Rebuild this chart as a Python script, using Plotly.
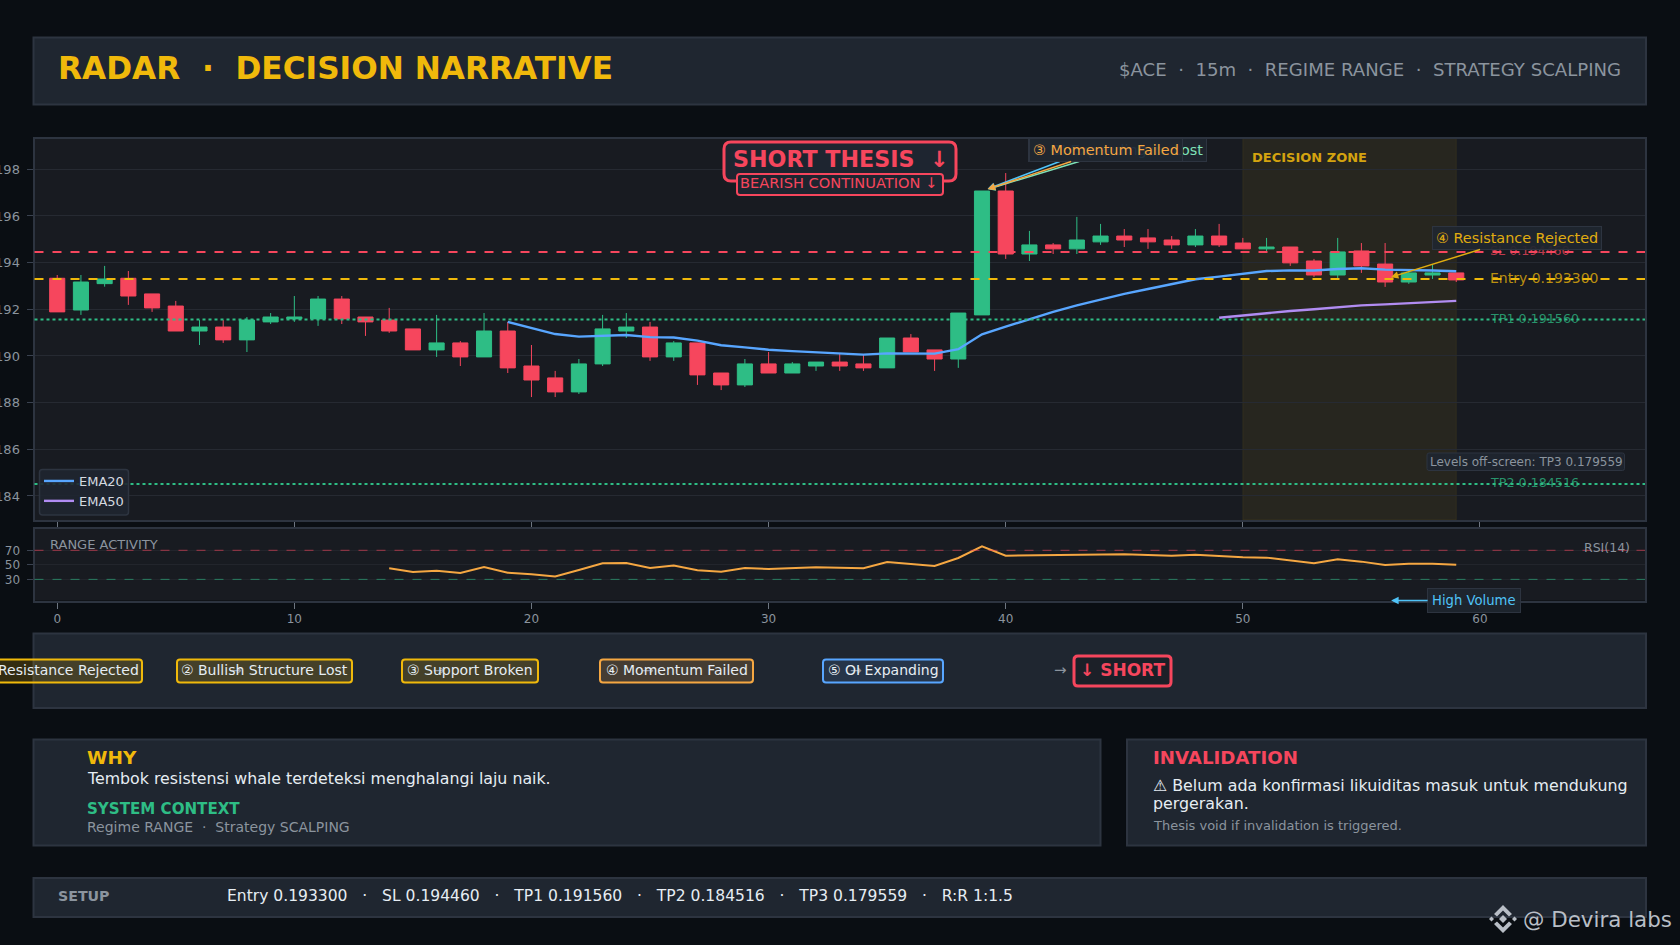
import plotly.graph_objects as go

W, H = 1680, 945
FONT = "DejaVu Sans"
BG = "#0a0e13"
PANEL = "#1f2630"
PLOT = "#181b21"
EDGE = "#2d3440"
RED = "#f6465d"
GREEN = "#2ebd85"
GOLD = "#f0b90b"
ORANGE = "#f5a742"
BLUE = "#58a6ff"
PURPLE = "#b18cf2"
CYAN = "#4fc3f7"
TEXT = "#e6edf3"
GREY = "#8b949e"

# candles
opens = [0.19333, 0.19197, 0.1931, 0.19333, 0.19266, 0.19214, 0.19107, 0.19124, 0.19069, 0.19146,
         0.19159, 0.19159, 0.19244, 0.19167, 0.19154, 0.19116, 0.19026, 0.19056, 0.18996, 0.19107,
         0.18957, 0.18906, 0.18846, 0.18966, 0.19107, 0.19124, 0.18996, 0.19056, 0.18927, 0.18876,
         0.18966, 0.18927, 0.18957, 0.18974, 0.18966, 0.18949, 0.19077, 0.19026, 0.18987, 0.19176,
         0.19707, 0.19437, 0.19476, 0.19459, 0.19489, 0.19514, 0.19506, 0.19497, 0.19476, 0.19514,
         0.19484, 0.19459, 0.19467, 0.19407, 0.19347, 0.1945, 0.19394, 0.19317, 0.19347, 0.19356]
highs = [0.19347, 0.19347, 0.19386, 0.19364, 0.19266, 0.19236, 0.19154, 0.19154, 0.19167, 0.19184,
         0.19257, 0.19257, 0.19257, 0.19167, 0.19206, 0.19116, 0.19176, 0.19064, 0.19184, 0.19146,
         0.19047, 0.18936, 0.18987, 0.19176, 0.19184, 0.19146, 0.19064, 0.19056, 0.18927, 0.18987,
         0.19017, 0.18974, 0.18974, 0.19009, 0.19004, 0.19077, 0.19094, 0.19026, 0.19184, 0.19707,
         0.19784, 0.19536, 0.19484, 0.19596, 0.19566, 0.19544, 0.19544, 0.19514, 0.19544, 0.19566,
         0.19506, 0.19506, 0.19467, 0.19416, 0.19506, 0.19484, 0.19484, 0.19369, 0.19394, 0.19356]
lows = [0.19189, 0.19176, 0.19297, 0.19219, 0.19189, 0.19107, 0.19047, 0.19056, 0.19017, 0.19137,
        0.19146, 0.19129, 0.19137, 0.19086, 0.19099, 0.19026, 0.18996, 0.18957, 0.18996, 0.18927,
        0.18824, 0.18824, 0.18837, 0.18957, 0.19077, 0.18979, 0.18979, 0.18876, 0.18854, 0.18867,
        0.18927, 0.18927, 0.18936, 0.18936, 0.18936, 0.18949, 0.19017, 0.18936, 0.18949, 0.19176,
        0.19416, 0.19407, 0.19437, 0.19437, 0.19476, 0.19467, 0.19459, 0.19459, 0.19467, 0.19467,
        0.19459, 0.19446, 0.19386, 0.19339, 0.19334, 0.19356, 0.19296, 0.19309, 0.1933, 0.19317]
closes = [0.19189, 0.19317, 0.1933, 0.19257, 0.19206, 0.19107, 0.19124, 0.19069, 0.19154, 0.19167,
          0.19167, 0.19244, 0.19159, 0.19146, 0.19107, 0.19026, 0.19056, 0.18996, 0.19107, 0.18949,
          0.18897, 0.18846, 0.18966, 0.19116, 0.19124, 0.18996, 0.19056, 0.18919, 0.18876, 0.18966,
          0.18927, 0.18966, 0.18974, 0.18957, 0.18949, 0.19077, 0.19017, 0.18987, 0.19184, 0.19707,
          0.19437, 0.19476, 0.19459, 0.19497, 0.19514, 0.19497, 0.19489, 0.19476, 0.19514, 0.19476,
          0.19459, 0.19467, 0.19399, 0.19347, 0.19446, 0.19386, 0.19317, 0.19356, 0.19356, 0.19326]
candle_x = list(range(60))

ema20_x = list(range(19, 60))
ema20 = [0.19146, 0.19119, 0.19094, 0.19083, 0.19086, 0.1909, 0.19081, 0.19079, 0.19066, 0.19046,
         0.19037, 0.19027, 0.19021, 0.19017, 0.19011, 0.19006, 0.19011, 0.19011, 0.1901, 0.19029,
         0.19093, 0.19126, 0.19159, 0.19189, 0.19217, 0.19243, 0.19266, 0.19287, 0.19307, 0.19329,
         0.1934, 0.19351, 0.19364, 0.19367, 0.19366, 0.19373, 0.19376, 0.1937, 0.19369, 0.19366, 0.19363]
ema50_x = list(range(49, 60))
ema50 = [0.19164, 0.19174, 0.19186, 0.19193, 0.192, 0.1921, 0.19217, 0.19221, 0.19226, 0.1923, 0.19236]

rsi_x = list(range(14, 60))
rsi = [45.2, 40.1, 42, 38.7, 47, 39.2, 36.9, 34.1, 42.9, 52.1, 52.5, 45.6, 48.9, 42.4, 40.6, 45.6,
       44.3, 45.6, 46.6, 46.1, 45.2, 53.9, 50.7, 48.4, 59.4, 75.5, 62.6, 63.1, 62.6, 63.6, 64.5, 64.5,
       63.6, 62.6, 64, 62.2, 60.3, 59.9, 55.7, 52.1, 57.6, 54.4, 49.8, 51.6, 51.6, 50.2]

price_ticks = [0.184, 0.186, 0.188, 0.19, 0.192, 0.194, 0.196, 0.198]
rsi_ticks = [30, 50, 70]
x_ticks = [0, 10, 20, 30, 40, 50, 60]

entry, sl, tp1, tp2, tp3 = 0.1933, 0.19446, 0.19156, 0.184516, 0.179559


def px(x):
    return x / W


def py(y):
    return 1 - y / H


def rrect(x0, y0, x1, y1, r):
    # rounded box in page pixels
    pts = [("M", x0 + r, y0), ("L", x1 - r, y0), ("Q", x1, y0, x1, y0 + r), ("L", x1, y1 - r),
           ("Q", x1, y1, x1 - r, y1), ("L", x0 + r, y1), ("Q", x0, y1, x0, y1 - r),
           ("L", x0, y0 + r), ("Q", x0, y0, x0 + r, y0)]
    out = ""
    for p in pts:
        out += p[0]
        for i in range(1, len(p), 2):
            out += f" {px(p[i]):.6f} {py(p[i + 1]):.6f} "
    return out + "Z"


def poly(points):
    return "M " + " L ".join(f"{px(a):.6f} {py(b):.6f}" for a, b in points) + " Z"


def box(x0, y0, x1, y1, r=0, fill=None, line=EDGE, lw=2, layer="above"):
    fig.add_shape(type="path", path=rrect(x0, y0, x1, y1, r), xref="paper", yref="paper",
                  fillcolor=fill or "rgba(0,0,0,0)", line=dict(color=line, width=lw), layer=layer)


def label(x, y, text, size=14, color=TEXT, bold=False, anchor="left"):
    if bold:
        text = "<b>" + text + "</b>"
    # annotations sit about 2px inside their anchor
    if anchor == "left":
        x -= 2
    elif anchor == "right":
        x += 2
    fig.add_annotation(x=px(x), y=py(y), xref="paper", yref="paper", text=text, showarrow=False,
                       xanchor=anchor, yanchor="middle", font=dict(family=FONT, size=size, color=color))


fig = go.Figure()
fig.add_trace(go.Candlestick(x=candle_x, open=opens, high=highs, low=lows, close=closes,
                             increasing=dict(fillcolor=GREEN, line=dict(color=GREEN, width=1)),
                             decreasing=dict(fillcolor=RED, line=dict(color=RED, width=1)),
                             showlegend=False))
fig.add_trace(go.Scatter(x=ema20_x, y=ema20, mode="lines", name="EMA20", line=dict(color=BLUE, width=2.4)))
fig.add_trace(go.Scatter(x=ema50_x, y=ema50, mode="lines", name="EMA50", line=dict(color=PURPLE, width=2.4)))
fig.add_trace(go.Scatter(x=rsi_x, y=rsi, mode="lines", xaxis="x2", yaxis="y2", showlegend=False,
                         line=dict(color=ORANGE, width=2)))

fig.update_layout(
    width=W, height=H, margin=dict(l=0, r=0, t=0, b=0), paper_bgcolor=BG, plot_bgcolor=PLOT,
    font=dict(family=FONT, size=13, color=GREY), boxgroupgap=0.09,
    xaxis=dict(domain=[px(34.5), px(1645)], range=[-0.958, 66.96], anchor="y", rangeslider=dict(visible=False),
               tickvals=x_ticks, showticklabels=False, ticks="outside", ticklen=6, tickcolor="#6e7681",
               showgrid=False, zeroline=False, showline=True, mirror=True, linecolor=EDGE, linewidth=2,
               automargin=False),
    yaxis=dict(domain=[py(520), py(138.5)], range=[0.182971, 0.19932], anchor="x", tickvals=price_ticks,
               tickformat=".3f", ticks="outside", ticklen=6, tickcolor="#3a4250", ticklabelstandoff=4,
               tickfont=dict(size=13, color="#8b949e"), gridcolor="#262a32", zeroline=False,
               showline=True, mirror=True, linecolor=EDGE, linewidth=2, automargin=False),
    xaxis2=dict(domain=[px(34.5), px(1645)], range=[-0.958, 66.96], anchor="y2", tickvals=x_ticks,
                ticks="outside", ticklen=6, tickcolor="#6e7681", tickfont=dict(size=12, color="#8b949e"),
                showgrid=False, zeroline=False, showline=True, mirror=True, linecolor=EDGE, linewidth=2,
                automargin=False),
    yaxis2=dict(domain=[py(600.5), py(528.5)], range=[0.9, 100], anchor="x2", tickvals=rsi_ticks,
                ticks="outside", ticklen=6, tickcolor="#3a4250", ticklabelstandoff=4,
                tickfont=dict(size=12, color="#8b949e"), gridcolor="#22252c", zeroline=False,
                showline=True, mirror=True, linecolor=EDGE, linewidth=2, automargin=False),
    legend=dict(x=px(39), y=py(466), xanchor="left", yanchor="top", bgcolor="rgba(0,0,0,0)",
                borderwidth=0, font=dict(family=FONT, size=13, color="#d5dae0")),
)

# decision zone and level lines
fig.add_shape(type="rect", x0=50, x1=59, y0=0, y1=1, xref="x", yref="y domain", layer="below",
              fillcolor="rgba(240,185,11,0.07)", line=dict(color="rgba(240,185,11,0.08)", width=1))
for lvl, col, dash in [(sl, RED, "dash"), (entry, GOLD, "dash"), (tp1, GREEN, "dot"), (tp2, GREEN, "dot")]:
    fig.add_shape(type="line", x0=0, x1=1, y0=lvl, y1=lvl, xref="x domain", yref="y",
                  line=dict(color=col, width=2, dash=dash))
fig.add_shape(type="line", x0=0, x1=1, y0=70, y1=70, xref="x2 domain", yref="y2",
              line=dict(color="rgba(246,70,93,0.6)", width=1, dash="dash"))
fig.add_shape(type="line", x0=0, x1=1, y0=30, y1=30, xref="x2 domain", yref="y2",
              line=dict(color="rgba(46,189,133,0.6)", width=1, dash="dash"))

# page panels
box(33.5, 37.5, 1646, 104.5, fill=PANEL, layer="below")
box(33.5, 633.5, 1646, 708, fill=PANEL, layer="below")
box(33.5, 739.5, 1100.5, 845.5, fill=PANEL, layer="below")
box(1127, 739.5, 1646, 845.5, fill=PANEL, layer="below")
box(33.5, 878, 1646, 917, fill=PANEL, layer="below")
box(39.5, 469.5, 128.5, 515, r=3, fill="rgba(31,38,48,0.9)", lw=1.5)

label(58, 68, "RADAR  ·  DECISION NARRATIVE", size=31.2, color=GOLD, bold=True)
label(1621, 69.5, "$ACE  ·  15m  ·  REGIME RANGE  ·  STRATEGY SCALPING", size=18.1, color=GREY, anchor="right")

# thesis badge
box(724, 142, 956, 181, r=7, fill="#1e2530", line=RED, lw=3)
label(840, 159, "SHORT THESIS  ↓", size=22.2, color=RED, bold=True, anchor="center")
box(737, 174, 943, 195, r=3, fill="#1e2530", line=RED, lw=2)
label(838, 183, "BEARISH CONTINUATION ↓", size=14.6, color=RED, anchor="center")

label(1252, 157.5, "DECISION ZONE", size=13, color="#d4a30f", bold=True)
label(1490, 250.5, "SL 0.194460", size=12.7, color="rgba(246,70,93,0.75)")
label(1490, 277.5, "Entry 0.193300", size=14, color="rgba(240,185,11,0.75)")
label(1490, 318.5, "TP1 0.191560", size=12.7, color="rgba(46,189,133,0.75)")
label(1490, 483, "TP2 0.184516", size=12.7, color="rgba(46,189,133,0.75)")
box(1427, 453, 1624.5, 470.5, r=2, fill="rgba(31,38,48,0.9)", line=EDGE, lw=1)
label(1526, 462, "Levels off-screen: TP3 0.179559", size=12, color=GREY, anchor="center")


def callout(x, y, ax, ay, text, color, xref="x", yref="y", standoff=6, size=14.4, pad=3):
    fig.add_annotation(x=x, y=y, xref=xref, yref=yref, ax=ax, ay=ay, text=text, showarrow=True,
                       arrowhead=2, arrowsize=1, arrowwidth=1.5, arrowcolor=color, standoff=standoff,
                       xanchor="center", yanchor="middle", bgcolor="rgba(31,38,48,0.92)",
                       bordercolor=EDGE, borderwidth=1, borderpad=pad,
                       font=dict(family=FONT, size=size, color=color))


callout(39, closes[39], 135, -41, "② Bullish Structure Lost", "#7ee2b8")
callout(39, closes[39], 108, -41, "① OI Expanding", CYAN)
callout(39, closes[39], 124, -41, "③ Momentum Failed", ORANGE)
callout(56, entry, 132, -41, "④ Resistance Rejected", "#e0ad10")
callout(56, 1, 89, 0, "High Volume", CYAN, xref="x2", yref="y2", size=13.2, pad=4)

label(50, 544, "RANGE ACTIVITY", size=13, color=GREY)
label(1630, 547, "RSI(14)", size=12.5, color=GREY, anchor="right")

# flow strip
flow_arrows = [236, 439, 648, 856]
for ax_x in flow_arrows:
    label(ax_x, 670, "→", size=14, color=GREY, anchor="center")
box(-20, 659.5, 142, 682.5, r=3, fill="rgba(240,185,11,0.18)", line=GOLD, lw=2)
box(177, 659.5, 352, 682.5, r=3, fill="rgba(240,185,11,0.18)", line=GOLD, lw=2)
box(402, 659.5, 538, 682.5, r=3, fill="rgba(240,185,11,0.18)", line=GOLD, lw=2)
box(600, 659.5, 753, 682.5, r=3, fill="rgba(245,167,66,0.18)", line=ORANGE, lw=2)
box(823, 659.5, 943, 682.5, r=3, fill="rgba(88,166,255,0.12)", line=BLUE, lw=2)
box(1074, 656, 1171, 686, r=4, fill="#1c2028", line=RED, lw=3)
label(59.5, 669.5, "① Resistance Rejected", size=14, anchor="center")
label(264.5, 669.5, "② Bullish Structure Lost", size=14, anchor="center")
label(470, 669.5, "③ Support Broken", size=14, anchor="center")
label(676.5, 669.5, "④ Momentum Failed", size=14, anchor="center")
label(883, 669.5, "⑤ OI Expanding", size=14, anchor="center")
label(1060, 669.5, "→", size=15, color=GREY, anchor="center")
label(1122, 669.5, "↓ SHORT", size=17, color=RED, bold=True, anchor="center")

# why and invalidation
label(87, 757, "WHY", size=18.5, color=GOLD, bold=True)
label(87, 778.5, "Tembok resistensi whale terdeteksi menghalangi laju naik.", size=15.8)
label(87, 809, "SYSTEM CONTEXT", size=15.1, color=GREEN, bold=True)
label(87, 826.5, "Regime RANGE  ·  Strategy SCALPING", size=14, color=GREY)
label(1153, 757, "INVALIDATION", size=18.2, color=RED, bold=True)
label(1153, 785.5, "⚠ Belum ada konfirmasi likuiditas masuk untuk mendukung", size=15.85)
label(1153, 803.5, "pergerakan.", size=15.85)
label(1153, 825.5, "Thesis void if invalidation is triggered.", size=13, color=GREY)

label(58, 896, "SETUP", size=14.2, color=GREY, bold=True)
label(227, 896, "Entry 0.193300   ·   SL 0.194460   ·   TP1 0.191560   ·   TP2 0.184516   ·   TP3 0.179559   ·   R:R 1:1.5", size=15.55)

# watermark
label(1523, 919, "@ Devira labs", size=21.4, color="#b8bec6")
cx, cy = 1503, 919
for dx, dy, r in [(0, 0, 4), (-11.5, 0, 2.5), (11.5, 0, 2.5)]:
    fig.add_shape(type="path", path=poly([(cx + dx, cy + dy - r), (cx + dx + r, cy + dy),
                                           (cx + dx, cy + dy + r), (cx + dx - r, cy + dy)]),
                  xref="paper", yref="paper", fillcolor="#b8bec6", line=dict(width=0))
for s in (-1, 1):
    fig.add_shape(type="path", path=poly([(cx - 9, cy + s * 5), (cx, cy + s * 14), (cx + 9, cy + s * 5),
                                           (cx + 6, cy + s * 2.5), (cx, cy + s * 8.5), (cx - 6, cy + s * 2.5)]),
                  xref="paper", yref="paper", fillcolor="#b8bec6", line=dict(width=0))

fig.write_html("out.html", config=dict(displayModeBar=False),
               post_script="document.body.style.margin='0';document.body.style.background='%s';" % BG)
